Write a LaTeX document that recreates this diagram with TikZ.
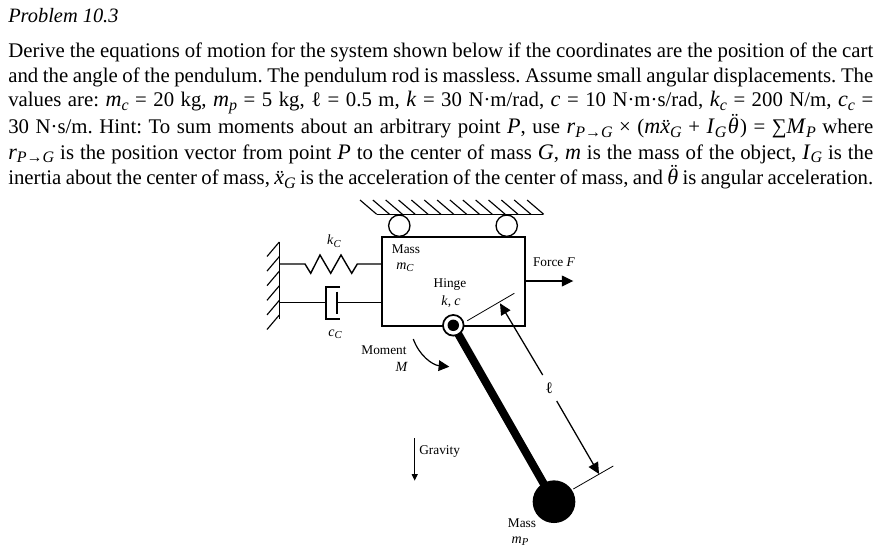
\documentclass[tikz,border=0pt]{standalone}
\usepackage{amsmath}
\usepackage{fontspec}
\setmainfont{Liberation Serif}
\usetikzlibrary{arrows.meta}
\newcommand{\iv}[1]{{\fontsize{16.6pt}{18pt}\selectfont\textit{#1}}}
\newcommand{\sbi}[1]{\raisebox{-2.8pt}{\fontsize{12pt}{12pt}\selectfont\textit{#1}}}
\newcommand{\xdd}{\makebox[0pt][l]{\hspace{1.6pt}¨}\iv{x}}
\newcommand{\thdd}{\makebox[0pt][l]{\hspace{2.6pt}\raisebox{4.4pt}{¨}}\iv{θ}}
\newcommand{\rpg}{\iv{r}\sbi{P→G}}
\newcommand{\bodyline}[1]{\makebox[648.75pt][s]{\frenchspacing #1}}
\newcommand{\lv}[1]{{\fontsize{10.5pt}{12pt}\selectfont\textit{#1}}}
\newcommand{\lsb}[1]{\raisebox{-1.8pt}{\fontsize{8pt}{8pt}\selectfont\textit{#1}}}
\tikzset{
  bodytext/.style={anchor=base west,inner sep=0pt,font=\fontsize{15.6pt}{18pt}\selectfont},
  titletext/.style={anchor=base west,inner sep=0pt,font=\fontsize{15.3pt}{18pt}\selectfont\itshape},
  lab/.style={inner sep=0pt,font=\fontsize{10pt}{12pt}\selectfont},
  thick line/.style={line width=1.4pt},
  medium line/.style={line width=1.05pt},
  thin line/.style={line width=0.6pt},
  hatch/.style={line width=0.85pt},
  arrow/.style={line width=0.95pt,-{Triangle[length=8.5pt,width=8pt]}},
  small arrow/.style={line width=0.9pt,-{Triangle[length=5pt,width=4.5pt]}},
  roller/.style={circle,draw,line width=1pt,fill=white,minimum size=16pt,inner sep=0pt}
}
\begin{document}
\begin{tikzpicture}[x=0.75pt,y=-0.75pt,line join=miter]
\useasboundingbox (0,0) rectangle (885,560);
% text
\node[titletext] (title) at (8,23) {Problem 10.3};
\node[bodytext] (l1) at (8,58) {\bodyline{Derive the equations of motion for the system shown below if the coordinates are the position of the cart}};
\node[bodytext] (l2) at (8,82.7) {\bodyline{and the angle of the pendulum. The pendulum rod is massless. Assume small angular displacements. The}};
\node[bodytext] (l3) at (8,107) {\bodyline{values are: \iv{m}\sbi{c} = 20 kg, \iv{m}\sbi{p} = 5 kg, ℓ = 0.5 m, \iv{k} = 30 N·m/rad, \iv{c} = 10 N·m·s/rad, \iv{k}\sbi{c} = 200 N/m, \iv{c}\sbi{c} =}};
\node[bodytext] (l4) at (8,133.5) {\bodyline{30 N·s/m. Hint: To sum moments about an arbitrary point \iv{P}, use \rpg{} × (\iv{m}\xdd\sbi{G} + \iv{I}\sbi{G}\kern1.2pt\thdd\kern1pt) = ∑\iv{M}\sbi{P} where}};
\node[bodytext] (l5) at (8,159) {\bodyline{\rpg{} is the position vector from point \iv{P} to the center of mass \iv{G}, \iv{m} is the mass of the object, \iv{I}\sbi{G} is the}};
\node[bodytext] (l6) at (8,184.5) {\bodyline{inertia about the center of mass, \xdd\sbi{G} is the acceleration of the center of mass, and \thdd{} is angular acceleration.}};

% ceiling
\coordinate (ceilL) at (376.7,214.3);
\coordinate (ceilR) at (543.3,214.3);
\draw[hatch] (ceilL) -- (ceilR);
\foreach \i in {0,...,13} {
  \draw[hatch] ({360+12.85*\i},200) -- ({376.7+12.85*\i},214.3);
}
% wall
\coordinate (wallT) at (279.3,242);
\coordinate (wallB) at (279.3,319);
\draw[hatch] (wallT) -- (wallB);
\foreach \i in {0,...,5} {
  \draw[hatch] (279.3,{242+14.6*\i}) -- (267,{256.5+14.6*\i});
}
% mass
\node[draw,thick line,rectangle,minimum width=107.7pt,minimum height=66.75pt,inner sep=0pt] (cart) at (453.5,281.2) {};
% rollers
\node[roller] (rollL) at (399.3,225.7) {};
\node[roller] (rollR) at (506.7,225.7) {};
% spring
\coordinate (sprA) at (wallT |- 0,264);
\coordinate (sprB) at (cart.west |- 0,264);
\draw[medium line] (sprA) -- (305,264) -- (310.7,273.3) -- (320,255) -- (330.7,273.3) -- (341,255) -- (351.7,273.3) -- (357.3,264) -- (sprB);
% damper
\coordinate (dmpA) at (wallT |- 0,302.7);
\coordinate (dmpB) at (cart.west |- 0,302.7);
\coordinate (dmpC) at (325.7,302.7);
\coordinate (dmpD) at (337,302.7);
\draw[medium line] (dmpA) -- (dmpC);
\draw[medium line] (dmpD) -- (dmpB);
\draw[thick line] (340,286.7) -- (325.7,286.7) -- (325.7,319) -- (340,319);
\draw[thick line] (337,291.7) -- (337,314);
% labels
\node[lab] (kc) at (334,241) {\lv{k}\lsb{C}};
\node[lab] (cc) at (335,334) {\lv{c}\lsb{C}};
\node[lab] (massc) at (406,249) {Mass};
\node[lab] (mc) at (405,267.5) {\lv{m}\lsb{C}};
\node[lab] (force) at (554,262) {Force \textit{F}};
\node[lab] (hingeL) at (450,285) {Hinge};
\node[lab] (hingeK) at (451,302) {\lv{k}, \lv{c}};
\node[lab] (moment) at (384,350) {Moment};
\node[lab] (momM) at (401.7,367) {\lv{M}};
\node[lab,anchor=west] (grav) at (419,452) {Gravity};
\node[lab] (massp) at (522,522.7) {Mass};
\node[lab] (mp) at (520,541) {\lv{m}\lsb{P}};
\node[lab] (ell) at (549.3,388) {\fontsize{12pt}{12pt}\selectfont ℓ};
% force
\coordinate (forceA) at (cart.east |- 0,281);
\coordinate (forceB) at (573.3,281);
\draw[arrow] (forceA) -- (forceB);
% rod
\coordinate (hingeC) at (453.3,325.3);
\coordinate (ballC) at (554,501.7);
\draw[line width=6pt] (hingeC) -- (ballC);
\node[circle,fill=black,minimum size=32pt,inner sep=0pt] (ball) at (ballC) {};
\node[circle,draw,line width=1.3pt,fill=white,minimum size=15.5pt,inner sep=0pt] (hinge) at (hingeC) {};
\node[circle,fill=black,minimum size=8.6pt,inner sep=0pt] (pin) at (hingeC) {};
% dimension
\coordinate (extA) at (467.3,320.7);
\coordinate (extB) at (514.3,293.3);
\coordinate (extC) at (573.3,489);
\coordinate (extD) at (613.3,466);
\coordinate (tipA) at (500,303.3);
\coordinate (tipB) at (599,474);
\draw[thin line] (extA) -- (extB);
\draw[thin line] (extC) -- (extD);
\coordinate (dimA) at (542.7,375);
\coordinate (dimB) at (556.7,401);
\draw[arrow] (dimA) -- (tipA);
\draw[arrow] (dimB) -- (tipB);
% moment
\coordinate (momA) at (413.3,339);
\coordinate (momB) at (449.3,366.7);
\draw[line width=0.9pt,-{Triangle[length=8pt,width=8pt]}] (momA) .. controls (419,355) and (432,365) .. (momB);
% gravity
\coordinate (gravA) at (414.7,438);
\coordinate (gravB) at (414.7,480.7);
\draw[small arrow] (gravA) -- (gravB);
\end{tikzpicture}
\end{document}
